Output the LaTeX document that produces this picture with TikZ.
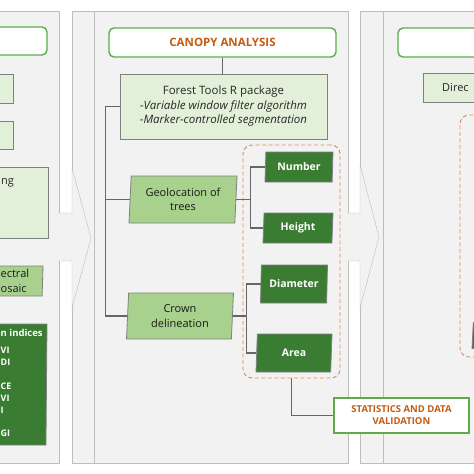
\documentclass[tikz,border=0pt]{standalone}
\usepackage{fontspec}
\setmainfont{Open Sans}
\usetikzlibrary{shapes.geometric}
\definecolor{panelgray}{HTML}{F2F2F2}
\definecolor{panelline}{HTML}{BDBDBD}
\definecolor{lightgreen}{HTML}{E2F0D9}
\definecolor{midgreen}{HTML}{A9D18E}
\definecolor{darkgreen}{HTML}{3A7D32}
\definecolor{titlegreen}{HTML}{5AAE4A}
\definecolor{orangetext}{HTML}{C55A11}
\definecolor{orangedash}{HTML}{DE8A5A}
\definecolor{linegray}{HTML}{666666}
\begin{document}
\begin{tikzpicture}[x=1pt,y=-1pt,
    titlebox/.style={draw=titlegreen, line width=1.4pt, fill=white, rounded corners=5pt, text=orangetext, font=\fontsize{11.5}{14}\selectfont\bfseries},
    methodbox/.style={draw=gray, line width=0.8pt, fill=lightgreen, align=center, text=black!85, font=\fontsize{11}{14.5}\selectfont},
    stepbox/.style={trapezium, trapezium left angle=85, trapezium right angle=95, trapezium stretches body, draw=gray, line width=0.8pt, fill=midgreen, align=center, inner sep=1pt, text=black!90, font=\fontsize{11}{14.5}\selectfont},
    varbox/.style={stepbox, fill=darkgreen, text=white, font=\fontsize{10.5}{13}\selectfont\bfseries},
    groupbox/.style={draw=orangedash, dash pattern=on 4pt off 2.5pt, line width=0.9pt, rounded corners=9pt},
    link/.style={draw=linegray, line width=1.1pt}]
\useasboundingbox (0,0) rectangle (474,474);
\clip (0,0) rectangle (474,474);
\fill[white] (0,0) rectangle (474,474);

% panels
\draw[panelline, fill=panelgray] (-10,11) rectangle (59,463);
\draw[panelline, fill=panelgray] (72,11) rectangle (94,463);
\draw[panelline, fill=panelgray] (94,11) rectangle (348,463);
\draw[panelline, fill=panelgray] (360,11) rectangle (383,463);
\draw[panelline, fill=panelgray] (383,11) rectangle (490,463);

% block arrows between the panels
\draw[panelline, fill=panelgray] (58,213) -- (72,213) -- (72,168) -- (91,238) -- (72,308) -- (72,261) -- (58,261);
\draw[panelline, fill=panelgray] (347,213) -- (360,213) -- (360,165) -- (379,237) -- (360,308) -- (360,261) -- (347,261);

% left panel (cut at the edge)
\node[titlebox, minimum width=107, minimum height=28] (lefttitle) at (-6.5,41) {};
\node[methodbox, minimum width=60, minimum height=29] (leftboxa) at (-17,88.5) {};
\node[methodbox, minimum width=60, minimum height=28] (leftboxb) at (-17,135) {};
\node[methodbox, minimum width=148, minimum height=71] (leftboxc) at (-26,202.5) {};
\node[anchor=east, inner sep=0pt, text=black!85, font=\fontsize{11}{14.5}\selectfont] (leftctext) at (14,183) {ng};
\node[stepbox, trapezium left angle=87, trapezium right angle=93, minimum width=103, minimum height=30] (mosaic) at (-8.5,281) {\strut};
\node[anchor=west, align=left, inner sep=0pt, text=black!90, font=\fontsize{11}{14.5}\selectfont] (mosaictext) at (0.5,281) {ectral\\osaic};
\node[varbox, trapezium left angle=86, trapezium right angle=94, minimum width=110, minimum height=121] (indices) at (-8,384.5) {\strut};
\node[anchor=west, inner sep=0pt, text=white, font=\fontsize{9.5}{13}\selectfont\bfseries] (indtitle) at (0.5,333) {n indices};
\node[anchor=north west, align=left, inner sep=0pt, text=white, font=\fontsize{9}{11.9}\selectfont\bfseries] (indlist) at (0.5,347) {VI\\DI\\\mbox{}\\CE\\VI\\I\\\mbox{}\\GI};

% middle panel
\node[titlebox, minimum width=227, minimum height=29] (title) at (222.5,42.5) {CANOPY ANALYSIS};
\node[methodbox, minimum width=207, minimum height=65, font=\fontsize{11.5}{14.5}\selectfont] (forest) at (223.5,106.5)
    {Forest Tools R package\\\itshape -Variable window filter algorithm\\\itshape -Marker-controlled segmentation};
\node[stepbox, minimum width=108, minimum height=47] (geo) at (183,199.5) {Geolocation of\\trees};
\node[stepbox, minimum width=107, minimum height=46] (crown) at (180,316) {Crown\\delineation};
\node[groupbox, minimum width=97, minimum height=233] (dashgroup) at (291.5,261.5) {};
\node[varbox, minimum width=68, minimum height=30] (number) at (299,167) {Number};
\node[varbox, minimum width=70, minimum height=30] (height) at (298,228) {Height};
\node[varbox, minimum width=67, minimum height=38] (diameter) at (294,284) {Diameter};
\node[varbox, trapezium left angle=82, trapezium right angle=98, minimum width=76, minimum height=38] (area) at (294,353) {Area};

\coordinate (fork) at ([xshift=-14pt]forest.west);
\coordinate (geofork) at ([xshift=14pt]geo.east);
\coordinate (crownfork) at ([xshift=14pt]crown.east);
\draw[link] (title.south) -- (title.south |- forest.north);
\draw[link] (forest.west) -- (fork) |- (crown.west);
\draw[link] (fork) |- (geo.west);
\draw[link] (geo.east) -- (geofork);
\draw[link] (number.west) -| (geofork) |- (height.west);
\draw[link] (crown.east) -- (crownfork);
\draw[link] (diameter.west) -| (crownfork) |- (area.west);

% right panel (cut at the edge)
\node[titlebox, minimum width=142, minimum height=29] (righttitle) at (469,42.5) {};
\node[methodbox, minimum width=117, minimum height=29] (direct) at (481.5,87.5) {};
\node[anchor=west, inner sep=0pt, text=black!85, font=\fontsize{11}{14.5}\selectfont] (directtext) at (442,88) {Direc};
\node[groupbox, minimum width=100, minimum height=242] (rightgroup) at (510,236) {};
\node[varbox, minimum width=68, minimum height=26] (rightvar) at (506,335.5) {\strut};

% statistics
\node[draw=titlegreen, line width=1.4pt, fill=white, align=center, text=orangetext, minimum width=135, minimum height=35, inner sep=0pt, font=\fontsize{9.5}{12}\selectfont\bfseries] (stats) at (401.5,415.5) {STATISTICS AND DATA\\VALIDATION};
\draw[link] (dashgroup.south) |- (stats.west);
\end{tikzpicture}
\end{document}
